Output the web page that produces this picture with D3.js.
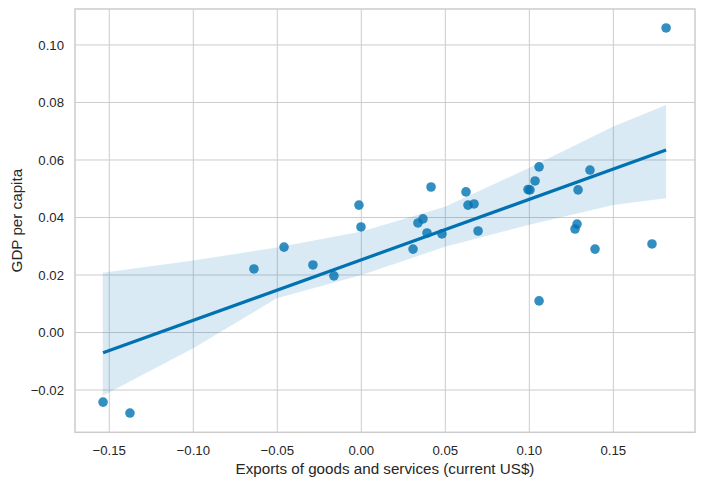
<!DOCTYPE html>
<html><head><meta charset="utf-8">
<script src="https://cdn.jsdelivr.net/npm/d3@7"></script>
<style>body{margin:0;background:#fff;} text{font-family:"Liberation Sans",Arial,sans-serif;}</style>
</head><body><svg id="c" width="704" height="486"></svg>
<script>
const exportsX = [-0.1537,-0.1377,-0.0639,-0.0460,-0.0288,-0.0163,-0.0014,-0.0002,0.0308,0.0337,0.0367,0.0391,0.0415,0.0480,0.0623,0.0635,0.0671,0.0695,0.0992,0.1004,0.1034,0.1058,0.1058,0.1272,0.1284,0.1290,0.1361,0.1391,0.1730,0.1814];
const gdpY = [-0.0242,-0.0280,0.0221,0.0297,0.0235,0.0197,0.0443,0.0367,0.0290,0.0381,0.0395,0.0346,0.0506,0.0343,0.0489,0.0443,0.0447,0.0353,0.0497,0.0496,0.0527,0.0576,0.0110,0.0360,0.0377,0.0496,0.0565,0.0290,0.0308,0.1059];
const bandX = [-0.1539,-0.1000,-0.0504,0.0002,0.0498,0.0994,0.1500,0.1814];
const bandUpper = [0.0208,0.0250,0.0296,0.0351,0.0437,0.0571,0.0716,0.0791];
const bandLower = [-0.0220,-0.0055,0.0119,0.0200,0.0298,0.0374,0.0443,0.0467];
const xTicks = [-0.15,-0.10,-0.05,0.00,0.05,0.10,0.15];
const yTicks = [-0.02,0.00,0.02,0.04,0.06,0.08,0.10];
const xLabel = "Exports of goods and services (current US$)";
const yLabel = "GDP per capita";

const L=75,R=695,T=9,B=432.3;
const x = d3.scaleLinear().domain([-0.1704,0.1986]).range([L,R]);
const y = d3.scaleLinear().domain([-0.0347,0.1125]).range([B,T]);
const svg = d3.select("#c");
const col = "#0072B2";

// grid
svg.append("g").selectAll("line").data(xTicks).join("line")
  .attr("x1",d=>x(d)).attr("x2",d=>x(d)).attr("y1",T).attr("y2",B)
  .attr("stroke","#cccccc").attr("stroke-width",1);
svg.append("g").selectAll("line").data(yTicks).join("line")
  .attr("y1",d=>y(d)).attr("y2",d=>y(d)).attr("x1",L).attr("x2",R)
  .attr("stroke","#cccccc").attr("stroke-width",1);

// band
const band = bandX.map((v,i)=>({x:v,u:bandUpper[i],l:bandLower[i]}));
svg.append("path").datum(band)
  .attr("d",d3.area().x(d=>x(d.x)).y0(d=>y(d.l)).y1(d=>y(d.u)))
  .attr("fill",col).attr("fill-opacity",0.15);

// points
svg.append("g").selectAll("circle").data(exportsX.map((v,i)=>[v,gdpY[i]])).join("circle")
  .attr("cx",d=>x(d[0])).attr("cy",d=>y(d[1])).attr("r",4.8)
  .attr("fill",col).attr("fill-opacity",0.8);

// regression
const mx=d3.mean(exportsX), my=d3.mean(gdpY);
let sxy=0,sxx=0; exportsX.forEach((v,i)=>{sxy+=(v-mx)*(gdpY[i]-my); sxx+=(v-mx)*(v-mx);});
const b=sxy/sxx, a=my-b*mx;
const x0=d3.min(exportsX), x1=d3.max(exportsX);
svg.append("line").attr("x1",x(x0)).attr("y1",y(a+b*x0)).attr("x2",x(x1)).attr("y2",y(a+b*x1))
  .attr("stroke",col).attr("stroke-width",3.2);

// spines
svg.append("rect").attr("x",L).attr("y",T).attr("width",R-L).attr("height",B-T)
  .attr("fill","none").attr("stroke","#cccccc").attr("stroke-width",1.5);

// tick labels
const fmt=d3.format(".2f");
const lab=v=>fmt(v).replace("-","\u2212");
svg.append("g").selectAll("text").data(xTicks).join("text")
  .attr("x",d=>x(d)).attr("y",454.5).attr("text-anchor","middle")
  .attr("font-size",13.2).attr("fill","#262626").text(lab);
svg.append("g").selectAll("text").data(yTicks).join("text")
  .attr("x",64).attr("y",d=>y(d)+4.7).attr("text-anchor","end")
  .attr("font-size",13.2).attr("fill","#262626").text(lab);
svg.append("text").attr("x",(L+R)/2).attr("y",473.5).attr("text-anchor","middle")
  .attr("font-size",15.2).attr("fill","#262626").text(xLabel);
svg.append("text").attr("transform","translate(22,"+((T+B)/2)+") rotate(-90)")
  .attr("text-anchor","middle").attr("font-size",15.2).attr("fill","#262626").text(yLabel);
</script></body></html>
